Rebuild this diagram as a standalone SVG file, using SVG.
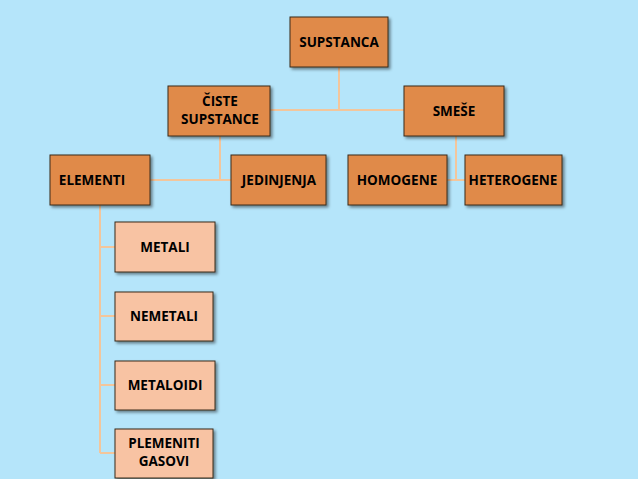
<svg xmlns="http://www.w3.org/2000/svg" width="638" height="479" viewBox="0 0 638 479">
<defs>
<filter id="sh" x="-10%" y="-10%" width="130%" height="140%"><feDropShadow dx="2" dy="2" stdDeviation="1.5" flood-color="#000" flood-opacity="0.45"/></filter>
<style>
.n{fill:#e08a48;stroke:#3a2a1a;stroke-width:1;filter:url(#sh)}
.l{fill:#f8c3a3;stroke:#3a2a1a;stroke-width:1;filter:url(#sh)}
text{font-family:"Open Sans","Liberation Sans",sans-serif;font-weight:bold;font-size:13.5px;fill:#000;text-anchor:middle}
.c{stroke:#f3c69c;stroke-width:2;fill:none}
</style>
</defs>
<rect width="638" height="479" fill="#b5e5fa"/>
<g id="connectors">
<path class="c" d="M339 67V110M270 110H404M220 136V180M150 180H231M456 136V180M447 180H465M100 205V453M100 247H115M100 316H115M100 385H115M100 453H115"/>
</g>
<g id="supstanca"><rect class="n" x="290" y="17" width="98" height="50"/><text x="339" y="47">SUPSTANCA</text></g>
<g id="ciste"><rect class="n" x="168" y="86" width="102" height="50"/><text x="220" y="106">ČISTE</text><text x="220" y="124">SUPSTANCE</text></g>
<g id="smese"><rect class="n" x="404" y="86" width="100" height="50"/><text x="454" y="116">SMEŠE</text></g>
<g id="elementi"><rect class="n" x="50" y="155" width="100" height="50"/><text x="92" y="185">ELEMENTI</text></g>
<g id="jedinjenja"><rect class="n" x="231" y="155" width="95" height="50"/><text x="279" y="185">JEDINJENJA</text></g>
<g id="homogene"><rect class="n" x="348" y="155" width="99" height="50"/><text x="397" y="185">HOMOGENE</text></g>
<g id="heterogene"><rect class="n" x="465" y="155" width="97" height="50"/><text x="513" y="185">HETEROGENE</text></g>
<g id="metali"><rect class="l" x="115" y="222" width="100" height="50"/><text x="165" y="252">METALI</text></g>
<g id="nemetali"><rect class="l" x="115" y="292" width="98" height="49"/><text x="164" y="321">NEMETALI</text></g>
<g id="metaloidi"><rect class="l" x="115" y="361" width="100" height="49"/><text x="165" y="390">METALOIDI</text></g>
<g id="plemeniti"><rect class="l" x="115" y="429" width="98" height="49"/><text x="164" y="448">PLEMENITI</text><text x="164" y="466">GASOVI</text></g>
</svg>
